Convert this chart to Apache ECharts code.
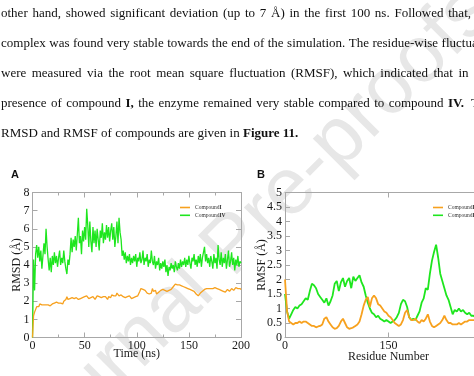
<!DOCTYPE html>
<html><head><meta charset="utf-8">
<script src="https://cdn.jsdelivr.net/npm/echarts@6/dist/echarts.min.js"></script>
<style>html,body{margin:0;padding:0;background:#fff}#c{width:474px;height:376px}</style>
</head><body><div id="c"></div>
<script>
// ---------- DATA ----------
// Panel A: RMSD (Å) vs time (ns), one value per ns from 0 to 200
const rmsdCompoundI = [
 0, 1.2, 1.4, 1.5, 1.7, 1.8, 1.7, 1.85, 1.75, 1.8,
 1.7, 1.8, 1.75, 1.8, 1.7, 1.8, 1.85, 1.75, 1.8, 1.85,
 1.8, 1.9, 1.85, 1.95, 1.85, 1.9, 1.8, 1.9, 1.95, 1.85,
 2.0, 2.05, 2.1, 2.25, 2.1, 2.05, 2.15, 2.1, 2.2, 2.1,
 2.15, 2.05, 2.2, 2.15, 2.1, 2.2, 2.15, 2.25, 2.2, 2.15,
 2.25, 2.2, 2.3, 2.2, 2.15, 2.25, 2.2, 2.15, 2.25, 2.2,
 2.1, 2.2, 2.3, 2.2, 2.25, 2.35, 2.2, 2.3, 2.25, 2.15,
 2.25, 2.2, 2.1, 2.25, 2.3, 2.2, 2.35, 2.25, 2.3, 2.4,
 2.3, 2.45, 2.35, 2.3, 2.25, 2.35, 2.3, 2.25, 2.3, 2.2,
 2.3, 2.25, 2.35, 2.3, 2.2, 2.15, 2.25, 2.2, 2.3, 2.25,
 2.35, 2.3, 2.4, 2.55, 2.7, 2.6, 2.65, 2.55, 2.6, 2.5,
 2.45, 2.55, 2.4, 2.5, 2.45, 2.7, 2.55, 2.5, 2.6, 2.4,
 2.35, 2.5, 2.45, 2.6, 2.5, 2.65, 2.55, 2.6, 2.7, 2.55,
 2.65, 2.6, 2.7, 2.65, 2.75, 2.8, 2.9, 2.95, 3.0, 2.9,
 2.85, 2.9, 2.8, 2.85, 2.75, 2.8, 2.7, 2.75, 2.65, 2.7,
 2.6, 2.65, 2.55, 2.6, 2.5, 2.55, 2.45, 2.4, 2.35, 2.3,
 2.35, 2.45, 2.5, 2.55, 2.6, 2.65, 2.6, 2.7, 2.65, 2.7,
 2.75, 2.7, 2.65, 2.7, 2.6, 2.75, 2.65, 2.7, 2.6, 2.65,
 2.55, 2.6, 2.7, 2.55, 2.6, 2.5, 2.55, 2.65, 2.6, 2.55,
 2.6, 2.7, 2.65, 2.6, 2.7, 2.75, 2.65, 2.7, 2.6, 2.7,
 2.65
];
const rmsdCompoundIV = [
 0, 4.3, 2.6, 4.6, 5.1, 4.4, 5.0, 4.2, 4.8, 3.8,
 4.5, 5.2, 4.6, 6.0, 5.0, 4.3, 3.7, 4.4, 3.6, 4.5,
 4.0, 4.7, 4.1, 4.5, 3.9, 4.4, 4.8, 4.0, 4.4, 4.1,
 4.8, 4.2, 3.8, 3.5, 4.3, 4.0, 4.6, 5.5, 4.7, 5.4,
 5.0, 5.6, 4.8, 5.7, 6.6, 5.2, 5.6, 4.6, 5.9, 5.3,
 6.1, 5.4, 7.1, 6.2, 5.0, 6.4, 5.3, 4.7, 6.1, 5.2,
 5.9, 5.0, 6.0, 5.4, 4.8, 5.9, 5.5, 6.3, 5.2, 5.8,
 5.4, 6.2, 5.5, 6.1, 5.3, 5.9, 6.3, 5.4, 6.1, 5.0,
 5.6, 6.4, 5.2, 6.6, 5.8, 5.4, 4.5, 4.8, 4.3, 4.7,
 4.1, 4.5, 4.2, 4.6, 4.0, 4.4, 4.1, 4.5, 4.2, 4.6,
 3.9, 4.4, 4.2, 4.7, 4.1, 4.3, 4.8, 4.0, 4.4, 4.2,
 4.6, 3.9, 4.3, 4.1, 4.8, 4.2, 4.0, 4.5, 3.8, 4.2,
 4.0, 4.4, 3.7, 4.1, 3.8, 4.2, 3.9, 4.3, 3.6, 4.0,
 3.4, 3.9, 3.7, 4.1, 3.8, 4.0, 3.6, 4.2, 3.9, 3.7,
 4.1, 3.8, 4.3, 3.9, 4.2, 4.0, 4.4, 3.9, 4.3, 4.0,
 4.5, 4.1, 3.8, 4.4, 4.2, 4.6, 4.0, 4.3, 3.9, 4.5,
 4.1, 4.6, 3.9, 4.4, 4.7, 5.0, 4.2, 4.6, 4.1, 4.4,
 3.9, 4.5, 4.2, 3.8, 4.6, 4.1, 4.4, 3.8, 5.1, 4.3,
 4.0, 4.7, 3.9, 4.4, 4.1, 4.6, 3.8, 4.3, 4.8, 3.9,
 4.2, 4.7, 4.0, 4.4, 3.7, 4.3, 4.0, 4.5, 3.9, 4.2,
 4.1
];
const rmsdTimeStep = 1; // ns between samples

// Panel B: RMSF (Å) per residue, every 3rd residue from 0
const rmsfCompoundI = [
 2.0, 0.9, 0.55, 0.5, 0.45, 0.5, 0.5, 0.55, 0.5, 0.55,
 0.55, 0.5, 0.45, 0.4, 0.4, 0.35, 0.38, 0.4, 0.45, 0.65,
 0.7, 0.55, 0.45, 0.35, 0.3, 0.32, 0.4, 0.55, 0.65, 0.5,
 0.35, 0.3, 0.32, 0.35, 0.4, 0.45, 0.55, 0.8, 1.1, 1.3,
 1.4, 1.05, 1.35, 1.45, 1.35, 1.15, 1.1, 1.0, 0.9, 0.85,
 0.75, 0.7, 0.6, 0.5, 0.45, 0.4, 0.45, 0.6, 0.85, 0.95,
 0.7, 0.6, 0.6, 0.65, 0.55, 0.5, 0.6, 0.55, 0.65, 0.8,
 0.55, 0.4, 0.35, 0.4, 0.45, 0.5, 0.6, 0.75, 0.6, 0.5,
 0.5, 0.45, 0.45, 0.45, 0.5, 0.45, 0.5, 0.55, 0.55, 0.6,
 0.6, 0.6, 0.6
];
const rmsfCompoundIV = [
 1.5, 0.9, 0.65, 0.8, 0.95, 1.05, 1.0, 1.1, 1.15, 1.25,
 1.35, 1.3, 1.6, 1.85, 1.8, 1.7, 1.5, 1.4, 1.3, 1.2,
 1.35, 1.1, 1.25, 1.45, 1.85, 1.95, 1.6, 1.9, 2.05, 1.75,
 1.95, 2.05, 1.7, 2.1, 1.95, 2.05, 2.15, 1.9, 1.75, 1.45,
 1.2, 1.0, 0.85, 0.8, 0.7, 0.75, 0.65, 0.6, 0.55, 0.6,
 0.55, 0.5, 0.55, 0.6, 0.7, 0.85, 1.15, 1.3, 1.25, 1.05,
 0.7, 0.6, 0.65, 0.6, 0.75, 0.9, 1.2, 1.35, 1.7, 1.65,
 2.2, 2.65, 2.95, 3.2, 2.75, 2.2, 1.95, 1.7, 1.45, 1.3,
 1.05, 0.8, 0.95, 0.9, 1.0, 0.9, 0.95, 0.85, 0.8, 0.85,
 0.75, 0.75, 0.7
];
const rmsfResidueStep = 3;

const seriesNames = ['Compound I', 'Compound IV'];
const xTicksA = { min: 0, max: 200, interval: 50 };
const yTicksA = { min: 0, max: 8, interval: 1 };
const xTicksB = { min: 0, max: 300, interval: 150 };
const yTicksB = { min: 0, max: 5, interval: 0.5 };

const bodyLines = [
 'other hand, showed significant deviation (up to 7 Å) in the first 100 ns. Followed that,',
 'complex was found very stable towards the end of the simulation. The residue-wise fluctuations',
 'were measured via the root mean square fluctuation (RMSF), which indicated that in',
 'presence of compound *I, the enzyme remained very stable compared to compound *IV. The',
 'RMSD and RMSF of compounds are given in *Figure *11.'
];
const watermarkText = 'Journal Pre-proofs';

// ---------- LAYOUT / STYLE ----------
const SERIF = '"Liberation Serif","Times New Roman",serif';
const TXT = '#1a1a1a';
const FRAME = '#a8a8a8';
const ORANGE = '#f7a11e';
const GREEN = '#1ee61e';
const lineLayout = [
 { x0: 1, x1: 471 },
 { x0: 1, x1: 503 },
 { x0: 1, x1: 468.5 },
 { x0: 1, x1: 464, tail: 471 },
 { x0: 1 }
];
const baselines = [18, 48, 78, 108, 138];

const mctx = document.createElement('canvas').getContext('2d');
function fontOf(bold) { return (bold ? 'bold ' : '') + '13px ' + SERIF; }
function measure(t, bold) { mctx.font = fontOf(bold); return mctx.measureText(t).width; }
function textEl(t, bold, x, baseY) {
  return { type: 'text', x: x, y: baseY - 4.4, z: 10,
    style: { text: t, font: fontOf(bold), fill: '#111', textAlign: 'left', textVerticalAlign: 'middle' } };
}
function layoutLine(str, spec, baseY) {
  const words = str.split(' ').map(s => s[0] === '*' ? { t: s.slice(1), b: true } : { t: s, b: false });
  let tail = null;
  if (spec.tail != null) tail = words.pop();
  const widths = words.map(w => measure(w.t, w.b));
  const total = widths.reduce((a, b) => a + b, 0);
  const gap = spec.x1 != null ? (spec.x1 - spec.x0 - total) / (words.length - 1) : measure(' ', false);
  let x = spec.x0;
  const els = [];
  words.forEach((w, i) => { els.push(textEl(w.t, w.b, x, baseY)); x += widths[i] + gap; });
  if (tail) els.push(textEl(tail.t, tail.b, spec.tail, baseY));
  return els;
}

const graphics = [];
graphics.push({ type: 'text', x: 248, y: 232, rotation: Math.PI / 4, z: -10,
  style: { text: watermarkText, font: '80px "Liberation Sans", Arial, sans-serif', fill: '#e7e7e7',
    textAlign: 'center', textVerticalAlign: 'middle' } });
bodyLines.forEach((s, i) => graphics.push(...layoutLine(s, lineLayout[i], baselines[i])));
graphics.push({ type: 'text', x: 11, y: 175, z: 10, style: { text: 'A', font: 'bold 11px "Liberation Sans", Arial, sans-serif', fill: '#111', textVerticalAlign: 'middle' } });
graphics.push({ type: 'text', x: 257, y: 175, z: 10, style: { text: 'B', font: 'bold 11px "Liberation Sans", Arial, sans-serif', fill: '#111', textVerticalAlign: 'middle' } });

function pairs(vals, step) { return vals.map((v, i) => [i * step, v]); }

function xAx(grid, ticks, pos, name, gap, minor) {
  return { gridIndex: grid, type: 'value', min: ticks.min, max: ticks.max, interval: ticks.interval, position: pos,
    axisLine: { show: true, onZero: false, lineStyle: { color: FRAME, width: 1 } },
    axisTick: { show: true, inside: true, length: 5, lineStyle: { color: FRAME } },
    minorTick: { show: minor, splitNumber: 2, length: 3, lineStyle: { color: FRAME } },
    splitLine: { show: false },
    axisLabel: { show: pos === 'bottom', color: TXT, fontFamily: SERIF, fontSize: 12, margin: 2, showMinLabel: true, showMaxLabel: true },
    name: pos === 'bottom' ? name : '', nameLocation: 'middle', nameGap: gap, nameMoveOverlap: false,
    nameTextStyle: { color: TXT, fontFamily: SERIF, fontSize: 12 } };
}
function yAx(grid, ticks, pos, name, gap) {
  return { gridIndex: grid, type: 'value', min: ticks.min, max: ticks.max, interval: ticks.interval, position: pos,
    axisLine: { show: true, onZero: false, lineStyle: { color: FRAME, width: 1 } },
    axisTick: { show: true, inside: true, length: 5, lineStyle: { color: FRAME } },
    splitLine: { show: false },
    axisLabel: { show: pos === 'left', color: TXT, fontFamily: SERIF, fontSize: 12, margin: 3, showMinLabel: true, showMaxLabel: true },
    name: pos === 'left' ? name : '', nameLocation: 'middle', nameGap: gap, nameMoveOverlap: false,
    nameTextStyle: { color: TXT, fontFamily: SERIF, fontSize: 12 } };
}
function legendAt(left) {
  return { data: seriesNames, left: left, top: 204.5, orient: 'vertical', padding: 0, itemGap: 1.8,
    itemWidth: 10, itemHeight: 1.6, icon: 'rect', selectedMode: false,
    formatter: n => n.replace(/^Compound (\S+)$/, 'Compound{b|$1}'),
    textStyle: { fontFamily: SERIF, fontSize: 5.5, lineHeight: 6, color: '#333',
      rich: { b: { fontFamily: SERIF, fontSize: 5.5, lineHeight: 6, fontWeight: 'bold', color: '#333' } } } };
}

const option = {
  backgroundColor: '#fff',
  animation: false,
  grid: [
    { left: 32.5, top: 192.5, width: 208.5, height: 145, outerBoundsMode: 'none', containLabel: false },
    { left: 285, top: 192.5, width: 207, height: 145, outerBoundsMode: 'none', containLabel: false }
  ],
  xAxis: [
    xAx(0, xTicksA, 'bottom', 'Time (ns)', 10.5, true),
    xAx(0, xTicksA, 'top', '', 0, true),
    xAx(1, xTicksB, 'bottom', 'Residue Number', 13, false),
    xAx(1, xTicksB, 'top', '', 0, false)
  ],
  yAxis: [
    yAx(0, yTicksA, 'left', 'RMSD (Å)', 9.5),
    yAx(0, yTicksA, 'right', '', 0),
    yAx(1, yTicksB, 'left', 'RMSF (Å)', 17.5),
    yAx(1, yTicksB, 'right', '', 0)
  ],
  legend: [legendAt(180), legendAt(433)],
  series: [
    { type: 'line', name: seriesNames[1], xAxisIndex: 0, yAxisIndex: 0, data: pairs(rmsdCompoundIV, rmsdTimeStep),
      symbol: 'none', lineStyle: { color: GREEN, width: 1.3 }, itemStyle: { color: GREEN } },
    { type: 'line', name: seriesNames[0], xAxisIndex: 0, yAxisIndex: 0, data: pairs(rmsdCompoundI, rmsdTimeStep),
      symbol: 'none', lineStyle: { color: ORANGE, width: 1.3 }, itemStyle: { color: ORANGE } },
    { type: 'line', name: seriesNames[1], xAxisIndex: 2, yAxisIndex: 2, data: pairs(rmsfCompoundIV, rmsfResidueStep),
      symbol: 'none', lineStyle: { color: GREEN, width: 1.8 }, itemStyle: { color: GREEN } },
    { type: 'line', name: seriesNames[0], xAxisIndex: 2, yAxisIndex: 2, data: pairs(rmsfCompoundI, rmsfResidueStep),
      symbol: 'none', lineStyle: { color: ORANGE, width: 1.8 }, itemStyle: { color: ORANGE } }
  ],
  graphic: graphics
};
const chart = echarts.init(document.getElementById('c'), null, { renderer: 'canvas', width: 474, height: 376 });
chart.setOption(option);
</script></body></html>
